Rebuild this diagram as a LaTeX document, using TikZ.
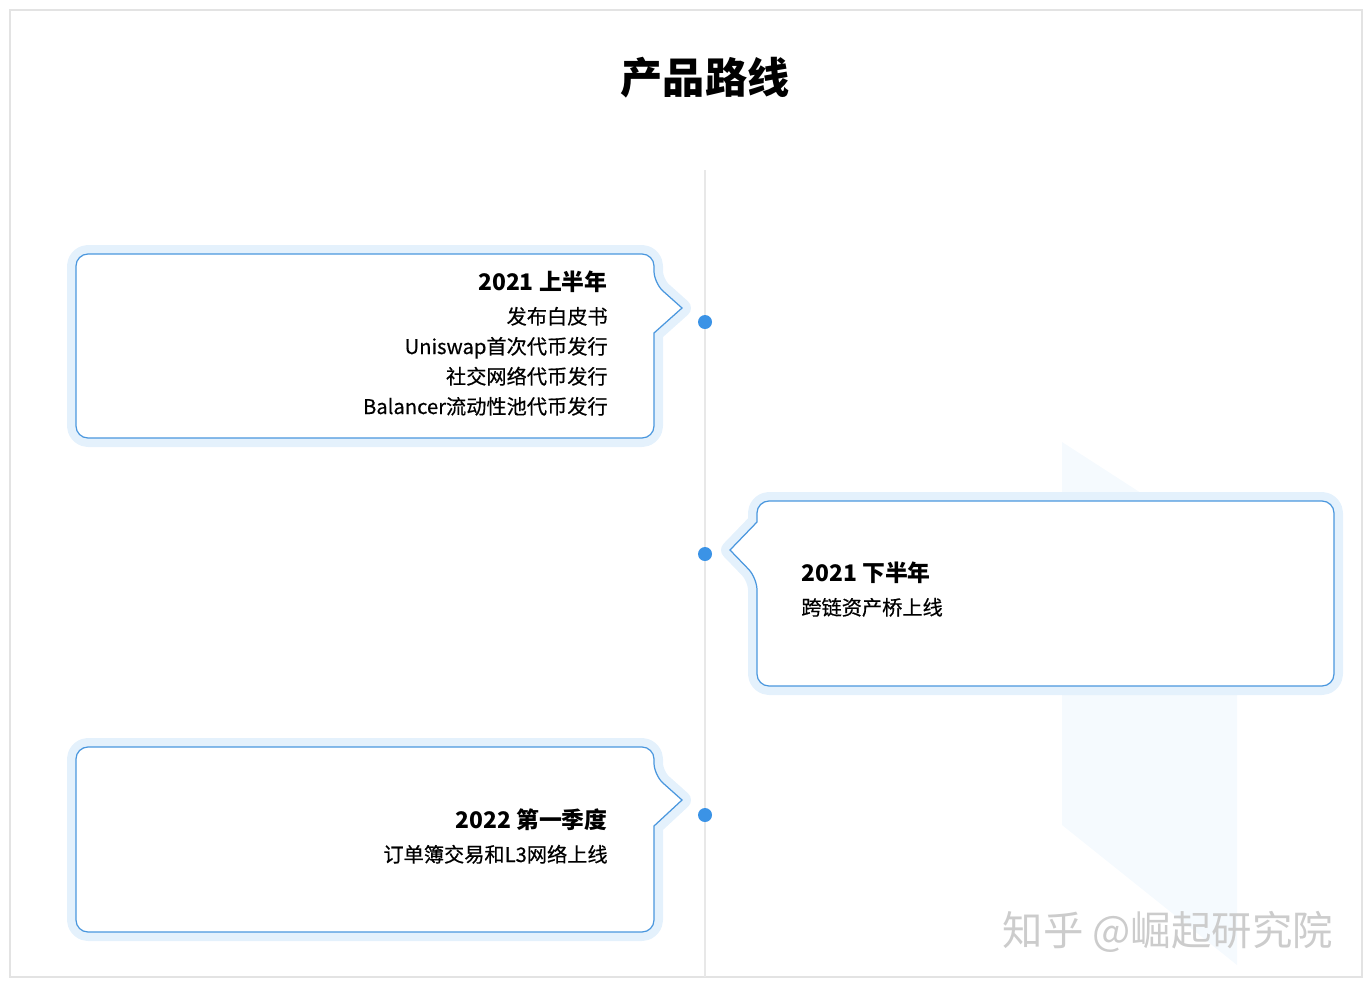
\documentclass[tikz,border=0pt]{standalone}
\usepackage{fontspec}
\setmainfont{Noto Sans CJK SC}
\newfontfamily\medfont[FakeBold=0.5]{Noto Sans CJK SC}
\usepackage{tikz}
\usetikzlibrary{positioning}
\definecolor{glow}{HTML}{E4F1FC}
\definecolor{edge}{HTML}{4A97DE}
\definecolor{dotblue}{HTML}{3B93E6}
\definecolor{backdrop}{HTML}{F5FAFE}

\begin{document}
\begin{tikzpicture}[
  x=0.02cm, y=-0.02cm,
  card/.style={preaction={draw=glow, line width=0.36cm, line join=round},
               draw=edge, fill=white, line width=0.7pt},
  dot/.style={circle, fill=dotblue, inner sep=0pt, minimum size=0.28cm},
  axis/.style={gray!18, line width=0.6pt},
  head/.style={font=\fontsize{13}{15}\selectfont\bfseries, inner sep=0pt},
  item/.style={font=\fontsize{11.5}{13}\selectfont\medfont, inner sep=0pt},
  wmark/.style={font=\fontsize{23}{25}\selectfont, text=gray!40, inner sep=0pt},
]
  \useasboundingbox (0,0) rectangle (1372,988);
  \draw[gray!22, line width=1.2pt] (10,10) rectangle (1362,977);

  % faint backdrop shape
  \fill[backdrop] (1062,442) -- (1237,555) -- (1237,965) -- (1062,825) -- cycle;

  % Title
  \node[font=\fontsize{24}{28}\selectfont\bfseries] (title) at (705,78) {产品路线};

  % Timeline
  \coordinate (top) at (705,170);
  \coordinate (bot) at (705,977);
  \draw[axis] (top) -- (bot);
  \node[dot] (d1) at (705,322) {};
  \node[dot] (d2) at (705,554) {};
  \node[dot] (d3) at (705,815) {};

  % Cards
  \draw[card] (654,283) [sharp corners] -- (682,308) -- (654,333)
    [rounded corners=0.24cm] -- (654,438) -- (76,438) -- (76,254) -- (654,254) -- cycle;
  \draw[card] (757,578) [sharp corners] -- (730,550) -- (757,522)
    [rounded corners=0.24cm] -- (757,501) -- (1334,501) -- (1334,686) -- (757,686) -- cycle;
  \draw[card] (654,775) [sharp corners] -- (682,800) -- (654,826)
    [rounded corners=0.24cm] -- (654,932) -- (76,932) -- (76,747) -- (654,747) -- cycle;

  % 2021 first half
  \node[head, anchor=east] (h1) at (608,282) {2021 上半年};
  \foreach \t [count=\i] in {发布白皮书, Uniswap首次代币发行, 社交网络代币发行, Balancer流动性池代币发行}
    \node[item, anchor=base east] (a\i) at (608,294+30*\i) {\t};

  % 2021 second half
  \node[head, anchor=west] (h2) at (801,573) {2021 下半年};
  \node[item, anchor=base west] (b1) at (801,615) {跨链资产桥上线};

  % 2022 Q1
  \node[head, anchor=east] (h3) at (608,820) {2022 第一季度};
  \node[item, anchor=base east] (c1) at (608,862) {订单簿交易和L3网络上线};

  \node[wmark] (wm) at (1168,932) {知乎 @崛起研究院};
\end{tikzpicture}
\end{document}
